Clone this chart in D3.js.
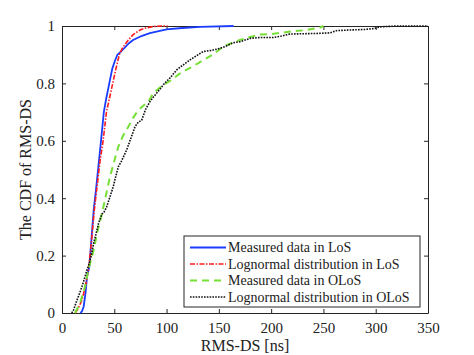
<!DOCTYPE html>
<html>
<head>
<meta charset="utf-8">
<script src="https://cdn.jsdelivr.net/npm/d3@7"></script>
<style>
  html, body { margin: 0; padding: 0; background: #fff; }
  svg { display: block; }
  text { font-family: "Liberation Serif", "Times New Roman", serif; fill: #222; }
</style>
</head>
<body>
<svg id="chart" width="474" height="355"></svg>
<script>
// ---- data ----
const xTicks = [0, 50, 100, 150, 200, 250, 300, 350];
const yTicks = [0, 0.2, 0.4, 0.6, 0.8, 1];
const seriesNames = ["Measured data in LoS", "Lognormal distribution in LoS", "Measured data in OLoS", "Lognormal distribution in OLoS"];

const losMeasX = [17.5, 19, 20.7, 22.5, 23.9, 26.1, 28, 30.3, 32.5, 34.5, 37.3, 40, 42, 45.2, 48, 50.7, 53, 56, 60, 64, 68, 76, 84, 100, 115, 132, 164];
const losMeasY = [0, 0.005, 0.022, 0.07, 0.126, 0.161, 0.25, 0.359, 0.43, 0.5, 0.6, 0.7, 0.742, 0.8, 0.85, 0.88, 0.9, 0.91, 0.925, 0.94, 0.951, 0.965, 0.975, 0.988, 0.993, 0.997, 1];

const losLogX = [12.7, 16, 19.1, 22.3, 25.5, 28, 30.9, 33.5, 36.5, 39.3, 42.5, 45.5, 48.5, 51.5, 54.8, 58, 63.4, 68, 74.6, 80, 87, 95, 101];
const losLogY = [0, 0.02, 0.045, 0.092, 0.156, 0.243, 0.359, 0.44, 0.533, 0.6, 0.7, 0.75, 0.8, 0.85, 0.9, 0.925, 0.951, 0.97, 0.986, 0.993, 0.998, 1, 1];

const olosMeasX = [12.4, 17.2, 22, 25.2, 30.3, 34, 38.2, 42, 45.9, 50, 53.9, 58, 63.4, 68, 73, 77.7, 82.5, 87.3, 95, 104, 112.8, 122, 130, 138, 146, 154, 162, 170, 180, 189, 200, 211, 222, 234, 247, 250];
const olosMeasY = [0, 0.034, 0.092, 0.15, 0.22, 0.285, 0.347, 0.41, 0.475, 0.53, 0.58, 0.615, 0.649, 0.68, 0.707, 0.722, 0.736, 0.766, 0.79, 0.81, 0.835, 0.853, 0.87, 0.887, 0.905, 0.928, 0.94, 0.951, 0.962, 0.97, 0.972, 0.977, 0.982, 0.986, 0.995, 1];

const olosLogX = [9.3, 11, 14.3, 17, 19.1, 21.5, 23.9, 26.1, 28, 30.3, 32.5, 35, 38.2, 40, 42.7, 45.9, 49, 51, 53.9, 57, 61.8, 65, 69.8, 73, 76.2, 80, 84, 88, 93.7, 98, 103, 109.7, 115, 122.4, 128, 135, 143, 151, 157, 163.8, 170, 180, 189, 195, 202, 210, 218, 230, 243, 256, 263, 275, 290, 298, 304, 320, 350];
const olosLogY = [0, 0.01, 0.045, 0.07, 0.092, 0.12, 0.15, 0.173, 0.2, 0.243, 0.275, 0.313, 0.345, 0.35, 0.37, 0.405, 0.44, 0.47, 0.51, 0.53, 0.568, 0.6, 0.649, 0.665, 0.672, 0.71, 0.736, 0.755, 0.78, 0.8, 0.818, 0.847, 0.862, 0.882, 0.895, 0.911, 0.915, 0.922, 0.93, 0.942, 0.945, 0.957, 0.96, 0.96, 0.96, 0.965, 0.972, 0.973, 0.974, 0.976, 0.984, 0.986, 0.988, 0.991, 0.997, 1, 1];

// ---- layout ----
const L = 62, R = 428, T = 26, B = 313;
const svg = d3.select("#chart");
svg.append("rect").attr("width", 474).attr("height", 355).attr("fill", "#fff");

const x = d3.scaleLinear().domain([0, 350]).range([L, R]);
const y = d3.scaleLinear().domain([0, 1]).range([B, T]);

const axisColor = "#262626";

// axes
const gx = svg.append("g").attr("transform", `translate(0,${B})`)
  .call(d3.axisBottom(x).tickValues(xTicks).tickSizeInner(-4).tickSizeOuter(0).tickPadding(9));
const gy = svg.append("g").attr("transform", `translate(${L},0)`)
  .call(d3.axisLeft(y).tickValues(yTicks).tickSizeInner(-4).tickSizeOuter(0).tickPadding(7)
    .tickFormat(d => d === 0 ? "0" : d === 1 ? "1" : d3.format(".1f")(d)));
const gt = svg.append("g").attr("transform", `translate(0,${T})`)
  .call(d3.axisTop(x).tickValues(xTicks).tickSizeInner(-4).tickSizeOuter(0).tickFormat(""));
const gr = svg.append("g").attr("transform", `translate(${R},0)`)
  .call(d3.axisRight(y).tickValues(yTicks).tickSizeInner(-4).tickSizeOuter(0).tickFormat(""));

[gx, gy, gt, gr].forEach(g => {
  g.selectAll("path.domain").attr("stroke", axisColor).attr("stroke-width", 1);
  g.selectAll(".tick line").attr("stroke", axisColor).attr("stroke-width", 1);
  g.selectAll(".tick text").style("font-family", '"Liberation Serif", serif').style("font-size", "15px").attr("fill", "#222");
});

// series
const line = d3.line().x(d => x(d[0])).y(d => y(d[1]));
const series = [
  { xs: losMeasX, ys: losMeasY, color: "#1a3cff", dash: null, width: 1.8 },
  { xs: losLogX, ys: losLogY, color: "#ff1a1a", dash: "5,1.5,1.5,1.5", width: 1.6 },
  { xs: olosMeasX, ys: olosMeasY, color: "#77e036", dash: "7,5", width: 2 },
  { xs: olosLogX, ys: olosLogY, color: "#111", dash: "1.6,1.2", width: 1.6 }
];
const plot = svg.append("g");
series.forEach(s => {
  const pts = s.xs.map((v, i) => [v, s.ys[i]]);
  plot.append("path").datum(pts)
    .attr("d", line)
    .attr("fill", "none")
    .attr("stroke", s.color)
    .attr("stroke-width", s.width)
    .attr("stroke-dasharray", s.dash);
});

// axis labels
svg.append("text").attr("x", (L + R) / 2).attr("y", 351)
  .attr("text-anchor", "middle").style("font-size", "16px").text("RMS-DS [ns]");
svg.append("text").attr("transform", `translate(31,${(T + B) / 2}) rotate(-90)`)
  .attr("text-anchor", "middle").style("font-size", "16px").text("The CDF of RMS-DS");

// legend
const lg = svg.append("g");
lg.append("rect").attr("x", 184).attr("y", 236).attr("width", 236).attr("height", 71)
  .attr("fill", "#fff").attr("stroke", axisColor).attr("stroke-width", 1);
const rowY = [247.5, 264, 280.5, 297];
series.forEach((s, i) => {
  lg.append("line").attr("x1", 190).attr("x2", 226).attr("y1", rowY[i]).attr("y2", rowY[i])
    .attr("stroke", s.color).attr("stroke-width", s.width).attr("stroke-dasharray", s.dash);
  lg.append("text").attr("x", 228).attr("y", rowY[i]).attr("dy", "0.35em")
    .style("font-size", "14px").text(seriesNames[i]);
});
</script>
</body>
</html>
